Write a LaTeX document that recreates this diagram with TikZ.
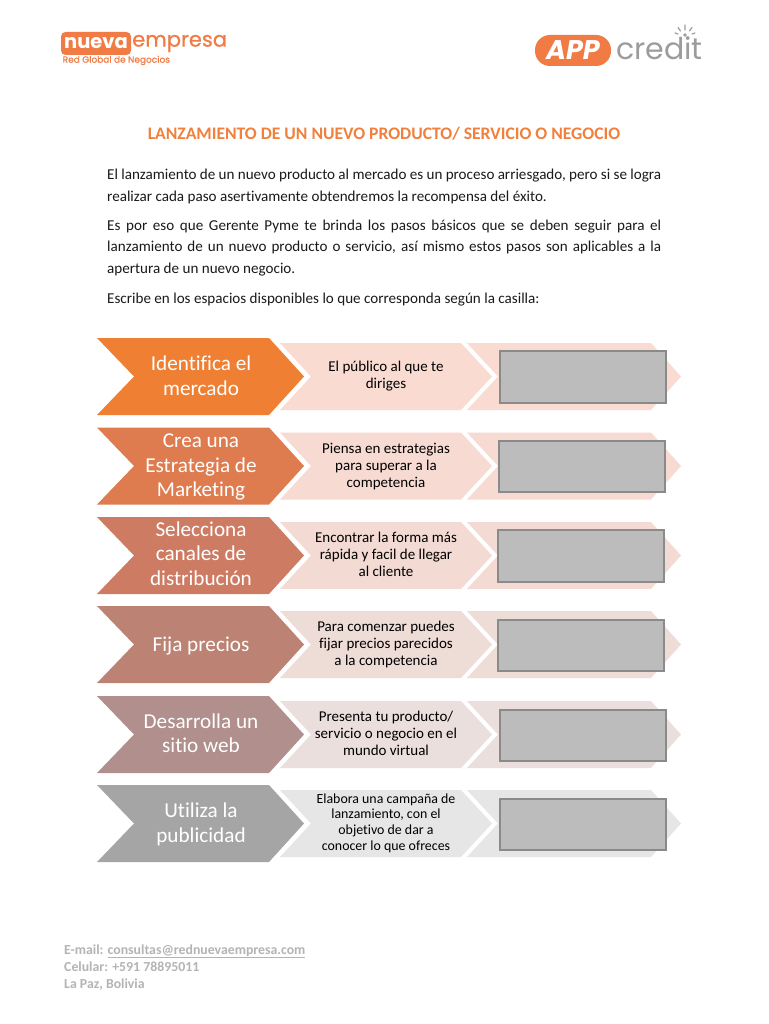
\documentclass[tikz,border=0pt]{standalone}
\usepackage{fontspec}
\setmainfont[Ligatures=NoCommon]{Carlito}
\newfontfamily\logofont{Poppins}
\newfontfamily\logomed[FakeBold=0.6]{Poppins}
\definecolor{brand}{HTML}{F07B45}
\definecolor{titleor}{HTML}{F0803C}
\definecolor{boxgrey}{HTML}{BCBCBC}
\definecolor{boxedge}{HTML}{8A8A8A}
\definecolor{foot}{HTML}{B4B4B4}
\definecolor{logogrey}{HTML}{9C9C9C}
\definecolor{bodyt}{HTML}{1A1A1A}
\definecolor{ca}{HTML}{EE7F33}\definecolor{cb}{HTML}{DE7B4F}\definecolor{cc}{HTML}{CE7B63}
\definecolor{cd}{HTML}{BC8375}\definecolor{ce}{HTML}{B08F8D}\definecolor{cf}{HTML}{A5A5A5}
\definecolor{la}{HTML}{FADBD2}\definecolor{lb}{HTML}{F7DAD2}\definecolor{lc}{HTML}{F3DAD3}
\definecolor{ld}{HTML}{EEDCD7}\definecolor{le}{HTML}{EADFDD}\definecolor{lf}{HTML}{E6E6E6}
\newcommand{\nohy}{\hyphenpenalty=10000\relax\exhyphenpenalty=10000\relax}
\newcommand{\subsel}{\fontsize{15}{17}\selectfont}
\tikzset{
  x=1pt,y=-1pt,
  headtxt/.style={text=white,font=\fontsize{21.2}{24.5}\selectfont,align=center,inner sep=0pt},
  subtxt/.style={text=black,font=\subsel,align=center,inner sep=0pt},
  para/.style={text=bodyt,font=\fontsize{15.1}{21.6}\selectfont\nohy,align=justify,text width=554pt,inner sep=0pt,anchor=north west},
  greybox/.style={fill=boxgrey,draw=boxedge,line width=1.6pt},
  footline/.style={text=foot,font=\bfseries\fontsize{13.8}{19}\selectfont,anchor=base west,inner sep=0pt},
}
\newcommand{\hoff}{0}
\newcommand{\soff}{0}
% #1 id, #2 top, #3 dark, #4 light, #5 head, #6 sub, #7 box left, #8 box top, #9 box bottom
\newcommand{\steprow}[9]{%
  \fill[#4] (467,#2+5) -- (651,#2+5) -- (681,#2+38.5) -- (651,#2+72) -- (467,#2+72) -- (498,#2+38.5) -- cycle;
  \fill[#4] (280,#2+5) -- (461,#2+5) -- (492,#2+38.5) -- (461,#2+72) -- (280,#2+72) -- (311,#2+38.5) -- cycle;
  \fill[#3] (97,#2) -- (269,#2) -- (304,#2+38.5) -- (269,#2+77) -- (97,#2+77) -- (134,#2+38.5) -- cycle;
  \node[headtxt] (h#1) at (201,#2+38.5+\hoff) {#5};
  \node[subtxt] (s#1) at (386,#2+38.5+\soff) {#6};
  \node[greybox,minimum width=166pt,minimum height=#9pt-#8pt,inner sep=0pt,anchor=north west] (b#1) at (#7,#8) {};
}
\begin{document}
\begin{tikzpicture}
\path[use as bounding box,fill=white] (0,0) rectangle (768,1024);
% logo left
\node[fill=brand,rounded corners=4.5pt,minimum width=70pt,minimum height=23pt,inner sep=0pt,text=white,font=\logofont\bfseries\fontsize{19.5}{19}\selectfont] (nv) at (96,43.5) {nueva};
\node[anchor=west,inner sep=0pt,text=brand,font=\logomed\fontsize{21}{21}\selectfont] (em) at (132,43.5) {empresa};
\node[anchor=west,inner sep=0pt,text=brand,font=\logomed\fontsize{9}{9}\selectfont] (rg) at (62.5,60.5) {Red Global de Negocios};
% logo right
\node[fill=brand,rounded corners=15pt,minimum width=76pt,minimum height=31pt,inner sep=0pt,text=white,font=\logofont\bfseries\itshape\fontsize{27}{27}\selectfont] (app) at (573,50.5) {APP};
\node[anchor=west,inner sep=0pt,text=logogrey,font=\logofont\fontsize{30}{30}\selectfont] (cr) at (616,48) {credit};
\fill[logogrey] (685,35) circle (1.8pt);
\draw[logogrey,line width=1.2pt,line cap=round] (685,25) -- (685,30) (678,27.5) -- (680.5,31) (692,27.5) -- (689.5,31) (675,33) -- (678,34) (695,33) -- (692,34);
% text
\node[inner sep=0pt,text=titleor,font=\bfseries\fontsize{17.6}{20}\selectfont] (title) at (384,134) {LANZAMIENTO DE UN NUEVO PRODUCTO/ SERVICIO O NEGOCIO};
\node[para] (p1) at (107,169) {El lanzamiento de un nuevo producto al mercado es un proceso arriesgado, pero si se logra realizar cada paso asertivamente obtendremos la recompensa del éxito.};
\node[para] (p2) at (107,219.5) {Es por eso que Gerente Pyme te brinda los pasos básicos que se deben seguir para el lanzamiento de un nuevo producto o servicio, así mismo estos pasos son aplicables a la apertura de un nuevo negocio.};
\node[para] (p3) at (107,293) {Escribe en los espacios disponibles lo que corresponda según la casilla:};
% rows
\renewcommand{\hoff}{-1}\renewcommand{\soff}{0}
\steprow{1}{338}{ca}{la}{Identifica el\\mercado}{El público al que te\\diriges}{499}{350}{402}
\renewcommand{\hoff}{1}\renewcommand{\soff}{1}
\steprow{2}{427.5}{cb}{lb}{Crea una\\Estrategia de\\Marketing}{Piensa en estrategias\\para superar a la\\competencia}{498}{440}{491}
\renewcommand{\hoff}{-2}\renewcommand{\soff}{-1}
\steprow{3}{517}{cc}{lc}{Selecciona\\canales de\\distribución}{Encontrar la forma más\\rápida y facil de llegar\\al cliente}{497}{529}{581}
\renewcommand{\hoff}{2}\renewcommand{\soff}{0}
\steprow{4}{606}{cd}{ld}{Fija precios}{Para comenzar puedes\\fijar precios parecidos\\a la competencia}{497}{619}{670}
\renewcommand{\hoff}{-1.5}\renewcommand{\soff}{-1}
\steprow{5}{696}{ce}{le}{Desarrolla un\\sitio web}{Presenta tu producto/\\servicio o negocio en el\\mundo virtual}{499}{709}{760}
\renewcommand{\hoff}{1}\renewcommand{\soff}{-0.5}
\renewcommand{\subsel}{\fontsize{13.9}{15.8}\selectfont}
\steprow{6}{785}{cf}{lf}{Utiliza la\\publicidad}{Elabora una campaña de\\lanzamiento, con el\\objetivo de dar a\\conocer lo que ofreces}{499}{798}{849}
% footer
\node[footline] (f1) at (64,954) {E-mail: \underline{consultas@rednuevaempresa.com}};
\node[footline] (f2) at (64,971) {Celular: +591 78895011};
\node[footline] (f3) at (64,988) {La Paz, Bolivia};
\end{tikzpicture}
\end{document}
